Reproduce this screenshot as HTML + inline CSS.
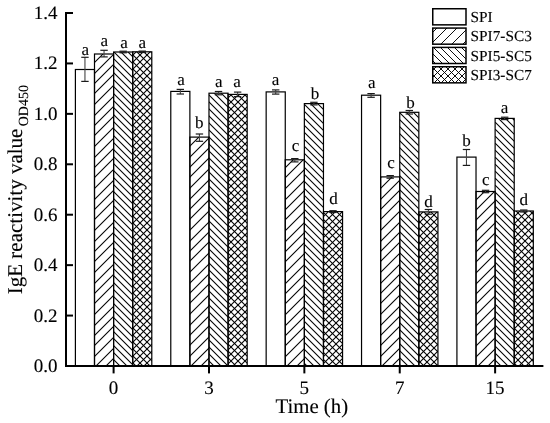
<!DOCTYPE html>
<html><head><meta charset="utf-8"><style>html,body{margin:0;padding:0;background:#fff}svg{display:block}text{text-rendering:geometricPrecision;stroke:#000;stroke-width:0.12px}</style></head>
<body><svg width="550" height="423" viewBox="0 0 550 423" font-family="Liberation Serif, serif" fill="#000">
<g stroke="none">
<defs><clipPath id="c01"><rect x="94.50" y="54.00" width="19.10" height="312.00"/></clipPath><clipPath id="c02"><rect x="113.60" y="52.00" width="19.10" height="314.00"/></clipPath><clipPath id="c03"><rect x="132.70" y="51.80" width="19.10" height="314.20"/></clipPath><clipPath id="c11"><rect x="189.88" y="137.10" width="19.10" height="228.90"/></clipPath><clipPath id="c12"><rect x="208.98" y="93.20" width="19.10" height="272.80"/></clipPath><clipPath id="c13"><rect x="228.08" y="94.40" width="19.10" height="271.60"/></clipPath><clipPath id="c21"><rect x="285.26" y="159.80" width="19.10" height="206.20"/></clipPath><clipPath id="c22"><rect x="304.36" y="103.60" width="19.10" height="262.40"/></clipPath><clipPath id="c23"><rect x="323.46" y="211.60" width="19.10" height="154.40"/></clipPath><clipPath id="c31"><rect x="380.64" y="176.90" width="19.10" height="189.10"/></clipPath><clipPath id="c32"><rect x="399.74" y="112.30" width="19.10" height="253.70"/></clipPath><clipPath id="c33"><rect x="418.84" y="211.90" width="19.10" height="154.10"/></clipPath><clipPath id="c41"><rect x="476.02" y="191.50" width="19.10" height="174.50"/></clipPath><clipPath id="c42"><rect x="495.12" y="118.40" width="19.10" height="247.60"/></clipPath><clipPath id="c43"><rect x="514.22" y="211.00" width="19.10" height="155.00"/></clipPath><clipPath id="l1"><rect x="432.75" y="28.08" width="33.25" height="16.10"/></clipPath><clipPath id="l2"><rect x="432.75" y="47.41" width="33.25" height="16.10"/></clipPath><clipPath id="l3"><rect x="432.75" y="66.74" width="33.25" height="16.10"/></clipPath></defs>
<rect width="550" height="423" fill="#fff"/>
<rect x="75.40" y="69.50" width="19.10" height="296.50" fill="none" stroke="#000" stroke-width="1.2"/>
<g clip-path="url(#c01)" stroke="#000" stroke-width="1.1"><line x1="-211.00" y1="368.00" x2="105.00" y2="52.00"/><line x1="-200.00" y1="368.00" x2="116.00" y2="52.00"/><line x1="-190.00" y1="368.00" x2="126.00" y2="52.00"/><line x1="-180.00" y1="368.00" x2="136.00" y2="52.00"/><line x1="-169.00" y1="368.00" x2="147.00" y2="52.00"/><line x1="-158.00" y1="368.00" x2="158.00" y2="52.00"/><line x1="-148.00" y1="368.00" x2="168.00" y2="52.00"/><line x1="-138.00" y1="368.00" x2="178.00" y2="52.00"/><line x1="-127.00" y1="368.00" x2="189.00" y2="52.00"/><line x1="-116.00" y1="368.00" x2="200.00" y2="52.00"/><line x1="-106.00" y1="368.00" x2="210.00" y2="52.00"/><line x1="-96.00" y1="368.00" x2="220.00" y2="52.00"/><line x1="-85.00" y1="368.00" x2="231.00" y2="52.00"/><line x1="-74.00" y1="368.00" x2="242.00" y2="52.00"/><line x1="-64.00" y1="368.00" x2="252.00" y2="52.00"/><line x1="-54.00" y1="368.00" x2="262.00" y2="52.00"/><line x1="-43.00" y1="368.00" x2="273.00" y2="52.00"/><line x1="-32.00" y1="368.00" x2="284.00" y2="52.00"/><line x1="-22.00" y1="368.00" x2="294.00" y2="52.00"/><line x1="-12.00" y1="368.00" x2="304.00" y2="52.00"/><line x1="-1.00" y1="368.00" x2="315.00" y2="52.00"/><line x1="10.00" y1="368.00" x2="326.00" y2="52.00"/><line x1="20.00" y1="368.00" x2="336.00" y2="52.00"/><line x1="30.00" y1="368.00" x2="346.00" y2="52.00"/><line x1="41.00" y1="368.00" x2="357.00" y2="52.00"/><line x1="52.00" y1="368.00" x2="368.00" y2="52.00"/><line x1="62.00" y1="368.00" x2="378.00" y2="52.00"/><line x1="72.00" y1="368.00" x2="388.00" y2="52.00"/><line x1="83.00" y1="368.00" x2="399.00" y2="52.00"/><line x1="94.00" y1="368.00" x2="410.00" y2="52.00"/><line x1="104.00" y1="368.00" x2="420.00" y2="52.00"/></g>
<rect x="94.50" y="54.00" width="19.10" height="312.00" fill="none" stroke="#000" stroke-width="1.2"/>
<g clip-path="url(#c02)" stroke="#000" stroke-width="1.1"><line x1="111.60" y1="35.60" x2="134.70" y2="58.70"/><line x1="111.60" y1="42.60" x2="134.70" y2="65.70"/><line x1="111.60" y1="49.60" x2="134.70" y2="72.70"/><line x1="111.60" y1="56.60" x2="134.70" y2="79.70"/><line x1="111.60" y1="63.60" x2="134.70" y2="86.70"/><line x1="111.60" y1="70.60" x2="134.70" y2="93.70"/><line x1="111.60" y1="77.60" x2="134.70" y2="100.70"/><line x1="111.60" y1="84.60" x2="134.70" y2="107.70"/><line x1="111.60" y1="91.60" x2="134.70" y2="114.70"/><line x1="111.60" y1="98.60" x2="134.70" y2="121.70"/><line x1="111.60" y1="105.60" x2="134.70" y2="128.70"/><line x1="111.60" y1="112.60" x2="134.70" y2="135.70"/><line x1="111.60" y1="119.60" x2="134.70" y2="142.70"/><line x1="111.60" y1="126.60" x2="134.70" y2="149.70"/><line x1="111.60" y1="133.60" x2="134.70" y2="156.70"/><line x1="111.60" y1="140.60" x2="134.70" y2="163.70"/><line x1="111.60" y1="147.60" x2="134.70" y2="170.70"/><line x1="111.60" y1="154.60" x2="134.70" y2="177.70"/><line x1="111.60" y1="161.60" x2="134.70" y2="184.70"/><line x1="111.60" y1="168.60" x2="134.70" y2="191.70"/><line x1="111.60" y1="175.60" x2="134.70" y2="198.70"/><line x1="111.60" y1="182.60" x2="134.70" y2="205.70"/><line x1="111.60" y1="189.60" x2="134.70" y2="212.70"/><line x1="111.60" y1="196.60" x2="134.70" y2="219.70"/><line x1="111.60" y1="203.60" x2="134.70" y2="226.70"/><line x1="111.60" y1="210.60" x2="134.70" y2="233.70"/><line x1="111.60" y1="217.60" x2="134.70" y2="240.70"/><line x1="111.60" y1="224.60" x2="134.70" y2="247.70"/><line x1="111.60" y1="231.60" x2="134.70" y2="254.70"/><line x1="111.60" y1="238.60" x2="134.70" y2="261.70"/><line x1="111.60" y1="245.60" x2="134.70" y2="268.70"/><line x1="111.60" y1="252.60" x2="134.70" y2="275.70"/><line x1="111.60" y1="259.60" x2="134.70" y2="282.70"/><line x1="111.60" y1="266.60" x2="134.70" y2="289.70"/><line x1="111.60" y1="273.60" x2="134.70" y2="296.70"/><line x1="111.60" y1="280.60" x2="134.70" y2="303.70"/><line x1="111.60" y1="287.60" x2="134.70" y2="310.70"/><line x1="111.60" y1="294.60" x2="134.70" y2="317.70"/><line x1="111.60" y1="301.60" x2="134.70" y2="324.70"/><line x1="111.60" y1="308.60" x2="134.70" y2="331.70"/><line x1="111.60" y1="315.60" x2="134.70" y2="338.70"/><line x1="111.60" y1="322.60" x2="134.70" y2="345.70"/><line x1="111.60" y1="329.60" x2="134.70" y2="352.70"/><line x1="111.60" y1="336.60" x2="134.70" y2="359.70"/><line x1="111.60" y1="343.60" x2="134.70" y2="366.70"/><line x1="111.60" y1="350.60" x2="134.70" y2="373.70"/><line x1="111.60" y1="357.60" x2="134.70" y2="380.70"/><line x1="111.60" y1="364.60" x2="134.70" y2="387.70"/></g>
<rect x="113.60" y="52.00" width="19.10" height="314.00" fill="none" stroke="#000" stroke-width="1.2"/>
<g clip-path="url(#c03)" stroke="#000" stroke-width="1.1"><line x1="-180.00" y1="368.00" x2="138.20" y2="49.80"/><line x1="-173.00" y1="368.00" x2="145.20" y2="49.80"/><line x1="-166.00" y1="368.00" x2="152.20" y2="49.80"/><line x1="-159.00" y1="368.00" x2="159.20" y2="49.80"/><line x1="-152.00" y1="368.00" x2="166.20" y2="49.80"/><line x1="-145.00" y1="368.00" x2="173.20" y2="49.80"/><line x1="-138.00" y1="368.00" x2="180.20" y2="49.80"/><line x1="-131.00" y1="368.00" x2="187.20" y2="49.80"/><line x1="-124.00" y1="368.00" x2="194.20" y2="49.80"/><line x1="-117.00" y1="368.00" x2="201.20" y2="49.80"/><line x1="-110.00" y1="368.00" x2="208.20" y2="49.80"/><line x1="-103.00" y1="368.00" x2="215.20" y2="49.80"/><line x1="-96.00" y1="368.00" x2="222.20" y2="49.80"/><line x1="-89.00" y1="368.00" x2="229.20" y2="49.80"/><line x1="-82.00" y1="368.00" x2="236.20" y2="49.80"/><line x1="-75.00" y1="368.00" x2="243.20" y2="49.80"/><line x1="-68.00" y1="368.00" x2="250.20" y2="49.80"/><line x1="-61.00" y1="368.00" x2="257.20" y2="49.80"/><line x1="-54.00" y1="368.00" x2="264.20" y2="49.80"/><line x1="-47.00" y1="368.00" x2="271.20" y2="49.80"/><line x1="-40.00" y1="368.00" x2="278.20" y2="49.80"/><line x1="-33.00" y1="368.00" x2="285.20" y2="49.80"/><line x1="-26.00" y1="368.00" x2="292.20" y2="49.80"/><line x1="-19.00" y1="368.00" x2="299.20" y2="49.80"/><line x1="-12.00" y1="368.00" x2="306.20" y2="49.80"/><line x1="-5.00" y1="368.00" x2="313.20" y2="49.80"/><line x1="2.00" y1="368.00" x2="320.20" y2="49.80"/><line x1="9.00" y1="368.00" x2="327.20" y2="49.80"/><line x1="16.00" y1="368.00" x2="334.20" y2="49.80"/><line x1="23.00" y1="368.00" x2="341.20" y2="49.80"/><line x1="30.00" y1="368.00" x2="348.20" y2="49.80"/><line x1="37.00" y1="368.00" x2="355.20" y2="49.80"/><line x1="44.00" y1="368.00" x2="362.20" y2="49.80"/><line x1="51.00" y1="368.00" x2="369.20" y2="49.80"/><line x1="58.00" y1="368.00" x2="376.20" y2="49.80"/><line x1="65.00" y1="368.00" x2="383.20" y2="49.80"/><line x1="72.00" y1="368.00" x2="390.20" y2="49.80"/><line x1="79.00" y1="368.00" x2="397.20" y2="49.80"/><line x1="86.00" y1="368.00" x2="404.20" y2="49.80"/><line x1="93.00" y1="368.00" x2="411.20" y2="49.80"/><line x1="100.00" y1="368.00" x2="418.20" y2="49.80"/><line x1="107.00" y1="368.00" x2="425.20" y2="49.80"/><line x1="114.00" y1="368.00" x2="432.20" y2="49.80"/><line x1="121.00" y1="368.00" x2="439.20" y2="49.80"/><line x1="128.00" y1="368.00" x2="446.20" y2="49.80"/><line x1="135.00" y1="368.00" x2="453.20" y2="49.80"/><line x1="142.00" y1="368.00" x2="460.20" y2="49.80"/><line x1="149.00" y1="368.00" x2="467.20" y2="49.80"/><line x1="130.70" y1="31.70" x2="153.80" y2="54.80"/><line x1="130.70" y1="38.70" x2="153.80" y2="61.80"/><line x1="130.70" y1="45.70" x2="153.80" y2="68.80"/><line x1="130.70" y1="52.70" x2="153.80" y2="75.80"/><line x1="130.70" y1="59.70" x2="153.80" y2="82.80"/><line x1="130.70" y1="66.70" x2="153.80" y2="89.80"/><line x1="130.70" y1="73.70" x2="153.80" y2="96.80"/><line x1="130.70" y1="80.70" x2="153.80" y2="103.80"/><line x1="130.70" y1="87.70" x2="153.80" y2="110.80"/><line x1="130.70" y1="94.70" x2="153.80" y2="117.80"/><line x1="130.70" y1="101.70" x2="153.80" y2="124.80"/><line x1="130.70" y1="108.70" x2="153.80" y2="131.80"/><line x1="130.70" y1="115.70" x2="153.80" y2="138.80"/><line x1="130.70" y1="122.70" x2="153.80" y2="145.80"/><line x1="130.70" y1="129.70" x2="153.80" y2="152.80"/><line x1="130.70" y1="136.70" x2="153.80" y2="159.80"/><line x1="130.70" y1="143.70" x2="153.80" y2="166.80"/><line x1="130.70" y1="150.70" x2="153.80" y2="173.80"/><line x1="130.70" y1="157.70" x2="153.80" y2="180.80"/><line x1="130.70" y1="164.70" x2="153.80" y2="187.80"/><line x1="130.70" y1="171.70" x2="153.80" y2="194.80"/><line x1="130.70" y1="178.70" x2="153.80" y2="201.80"/><line x1="130.70" y1="185.70" x2="153.80" y2="208.80"/><line x1="130.70" y1="192.70" x2="153.80" y2="215.80"/><line x1="130.70" y1="199.70" x2="153.80" y2="222.80"/><line x1="130.70" y1="206.70" x2="153.80" y2="229.80"/><line x1="130.70" y1="213.70" x2="153.80" y2="236.80"/><line x1="130.70" y1="220.70" x2="153.80" y2="243.80"/><line x1="130.70" y1="227.70" x2="153.80" y2="250.80"/><line x1="130.70" y1="234.70" x2="153.80" y2="257.80"/><line x1="130.70" y1="241.70" x2="153.80" y2="264.80"/><line x1="130.70" y1="248.70" x2="153.80" y2="271.80"/><line x1="130.70" y1="255.70" x2="153.80" y2="278.80"/><line x1="130.70" y1="262.70" x2="153.80" y2="285.80"/><line x1="130.70" y1="269.70" x2="153.80" y2="292.80"/><line x1="130.70" y1="276.70" x2="153.80" y2="299.80"/><line x1="130.70" y1="283.70" x2="153.80" y2="306.80"/><line x1="130.70" y1="290.70" x2="153.80" y2="313.80"/><line x1="130.70" y1="297.70" x2="153.80" y2="320.80"/><line x1="130.70" y1="304.70" x2="153.80" y2="327.80"/><line x1="130.70" y1="311.70" x2="153.80" y2="334.80"/><line x1="130.70" y1="318.70" x2="153.80" y2="341.80"/><line x1="130.70" y1="325.70" x2="153.80" y2="348.80"/><line x1="130.70" y1="332.70" x2="153.80" y2="355.80"/><line x1="130.70" y1="339.70" x2="153.80" y2="362.80"/><line x1="130.70" y1="346.70" x2="153.80" y2="369.80"/><line x1="130.70" y1="353.70" x2="153.80" y2="376.80"/><line x1="130.70" y1="360.70" x2="153.80" y2="383.80"/></g>
<rect x="132.70" y="51.80" width="19.10" height="314.20" fill="none" stroke="#000" stroke-width="1.2"/>
<rect x="170.78" y="91.40" width="19.10" height="274.60" fill="none" stroke="#000" stroke-width="1.2"/>
<g clip-path="url(#c11)" stroke="#000" stroke-width="1.1"><line x1="-32.00" y1="368.00" x2="200.90" y2="135.10"/><line x1="-21.00" y1="368.00" x2="211.90" y2="135.10"/><line x1="-11.00" y1="368.00" x2="221.90" y2="135.10"/><line x1="-1.00" y1="368.00" x2="231.90" y2="135.10"/><line x1="10.00" y1="368.00" x2="242.90" y2="135.10"/><line x1="21.00" y1="368.00" x2="253.90" y2="135.10"/><line x1="31.00" y1="368.00" x2="263.90" y2="135.10"/><line x1="41.00" y1="368.00" x2="273.90" y2="135.10"/><line x1="52.00" y1="368.00" x2="284.90" y2="135.10"/><line x1="63.00" y1="368.00" x2="295.90" y2="135.10"/><line x1="73.00" y1="368.00" x2="305.90" y2="135.10"/><line x1="83.00" y1="368.00" x2="315.90" y2="135.10"/><line x1="94.00" y1="368.00" x2="326.90" y2="135.10"/><line x1="105.00" y1="368.00" x2="337.90" y2="135.10"/><line x1="115.00" y1="368.00" x2="347.90" y2="135.10"/><line x1="125.00" y1="368.00" x2="357.90" y2="135.10"/><line x1="136.00" y1="368.00" x2="368.90" y2="135.10"/><line x1="147.00" y1="368.00" x2="379.90" y2="135.10"/><line x1="157.00" y1="368.00" x2="389.90" y2="135.10"/><line x1="167.00" y1="368.00" x2="399.90" y2="135.10"/><line x1="178.00" y1="368.00" x2="410.90" y2="135.10"/><line x1="189.00" y1="368.00" x2="421.90" y2="135.10"/><line x1="199.00" y1="368.00" x2="431.90" y2="135.10"/></g>
<rect x="189.88" y="137.10" width="19.10" height="228.90" fill="none" stroke="#000" stroke-width="1.2"/>
<g clip-path="url(#c12)" stroke="#000" stroke-width="1.1"><line x1="206.98" y1="71.98" x2="230.08" y2="95.08"/><line x1="206.98" y1="78.98" x2="230.08" y2="102.08"/><line x1="206.98" y1="85.98" x2="230.08" y2="109.08"/><line x1="206.98" y1="92.98" x2="230.08" y2="116.08"/><line x1="206.98" y1="99.98" x2="230.08" y2="123.08"/><line x1="206.98" y1="106.98" x2="230.08" y2="130.08"/><line x1="206.98" y1="113.98" x2="230.08" y2="137.08"/><line x1="206.98" y1="120.98" x2="230.08" y2="144.08"/><line x1="206.98" y1="127.98" x2="230.08" y2="151.08"/><line x1="206.98" y1="134.98" x2="230.08" y2="158.08"/><line x1="206.98" y1="141.98" x2="230.08" y2="165.08"/><line x1="206.98" y1="148.98" x2="230.08" y2="172.08"/><line x1="206.98" y1="155.98" x2="230.08" y2="179.08"/><line x1="206.98" y1="162.98" x2="230.08" y2="186.08"/><line x1="206.98" y1="169.98" x2="230.08" y2="193.08"/><line x1="206.98" y1="176.98" x2="230.08" y2="200.08"/><line x1="206.98" y1="183.98" x2="230.08" y2="207.08"/><line x1="206.98" y1="190.98" x2="230.08" y2="214.08"/><line x1="206.98" y1="197.98" x2="230.08" y2="221.08"/><line x1="206.98" y1="204.98" x2="230.08" y2="228.08"/><line x1="206.98" y1="211.98" x2="230.08" y2="235.08"/><line x1="206.98" y1="218.98" x2="230.08" y2="242.08"/><line x1="206.98" y1="225.98" x2="230.08" y2="249.08"/><line x1="206.98" y1="232.98" x2="230.08" y2="256.08"/><line x1="206.98" y1="239.98" x2="230.08" y2="263.08"/><line x1="206.98" y1="246.98" x2="230.08" y2="270.08"/><line x1="206.98" y1="253.98" x2="230.08" y2="277.08"/><line x1="206.98" y1="260.98" x2="230.08" y2="284.08"/><line x1="206.98" y1="267.98" x2="230.08" y2="291.08"/><line x1="206.98" y1="274.98" x2="230.08" y2="298.08"/><line x1="206.98" y1="281.98" x2="230.08" y2="305.08"/><line x1="206.98" y1="288.98" x2="230.08" y2="312.08"/><line x1="206.98" y1="295.98" x2="230.08" y2="319.08"/><line x1="206.98" y1="302.98" x2="230.08" y2="326.08"/><line x1="206.98" y1="309.98" x2="230.08" y2="333.08"/><line x1="206.98" y1="316.98" x2="230.08" y2="340.08"/><line x1="206.98" y1="323.98" x2="230.08" y2="347.08"/><line x1="206.98" y1="330.98" x2="230.08" y2="354.08"/><line x1="206.98" y1="337.98" x2="230.08" y2="361.08"/><line x1="206.98" y1="344.98" x2="230.08" y2="368.08"/><line x1="206.98" y1="351.98" x2="230.08" y2="375.08"/><line x1="206.98" y1="358.98" x2="230.08" y2="382.08"/></g>
<rect x="208.98" y="93.20" width="19.10" height="272.80" fill="none" stroke="#000" stroke-width="1.2"/>
<g clip-path="url(#c13)" stroke="#000" stroke-width="1.1"><line x1="-42.00" y1="368.00" x2="233.60" y2="92.40"/><line x1="-35.00" y1="368.00" x2="240.60" y2="92.40"/><line x1="-28.00" y1="368.00" x2="247.60" y2="92.40"/><line x1="-21.00" y1="368.00" x2="254.60" y2="92.40"/><line x1="-14.00" y1="368.00" x2="261.60" y2="92.40"/><line x1="-7.00" y1="368.00" x2="268.60" y2="92.40"/><line x1="0.00" y1="368.00" x2="275.60" y2="92.40"/><line x1="7.00" y1="368.00" x2="282.60" y2="92.40"/><line x1="14.00" y1="368.00" x2="289.60" y2="92.40"/><line x1="21.00" y1="368.00" x2="296.60" y2="92.40"/><line x1="28.00" y1="368.00" x2="303.60" y2="92.40"/><line x1="35.00" y1="368.00" x2="310.60" y2="92.40"/><line x1="42.00" y1="368.00" x2="317.60" y2="92.40"/><line x1="49.00" y1="368.00" x2="324.60" y2="92.40"/><line x1="56.00" y1="368.00" x2="331.60" y2="92.40"/><line x1="63.00" y1="368.00" x2="338.60" y2="92.40"/><line x1="70.00" y1="368.00" x2="345.60" y2="92.40"/><line x1="77.00" y1="368.00" x2="352.60" y2="92.40"/><line x1="84.00" y1="368.00" x2="359.60" y2="92.40"/><line x1="91.00" y1="368.00" x2="366.60" y2="92.40"/><line x1="98.00" y1="368.00" x2="373.60" y2="92.40"/><line x1="105.00" y1="368.00" x2="380.60" y2="92.40"/><line x1="112.00" y1="368.00" x2="387.60" y2="92.40"/><line x1="119.00" y1="368.00" x2="394.60" y2="92.40"/><line x1="126.00" y1="368.00" x2="401.60" y2="92.40"/><line x1="133.00" y1="368.00" x2="408.60" y2="92.40"/><line x1="140.00" y1="368.00" x2="415.60" y2="92.40"/><line x1="147.00" y1="368.00" x2="422.60" y2="92.40"/><line x1="154.00" y1="368.00" x2="429.60" y2="92.40"/><line x1="161.00" y1="368.00" x2="436.60" y2="92.40"/><line x1="168.00" y1="368.00" x2="443.60" y2="92.40"/><line x1="175.00" y1="368.00" x2="450.60" y2="92.40"/><line x1="182.00" y1="368.00" x2="457.60" y2="92.40"/><line x1="189.00" y1="368.00" x2="464.60" y2="92.40"/><line x1="196.00" y1="368.00" x2="471.60" y2="92.40"/><line x1="203.00" y1="368.00" x2="478.60" y2="92.40"/><line x1="210.00" y1="368.00" x2="485.60" y2="92.40"/><line x1="217.00" y1="368.00" x2="492.60" y2="92.40"/><line x1="224.00" y1="368.00" x2="499.60" y2="92.40"/><line x1="231.00" y1="368.00" x2="506.60" y2="92.40"/><line x1="238.00" y1="368.00" x2="513.60" y2="92.40"/><line x1="245.00" y1="368.00" x2="520.60" y2="92.40"/><line x1="226.08" y1="76.08" x2="249.18" y2="99.18"/><line x1="226.08" y1="83.08" x2="249.18" y2="106.18"/><line x1="226.08" y1="90.08" x2="249.18" y2="113.18"/><line x1="226.08" y1="97.08" x2="249.18" y2="120.18"/><line x1="226.08" y1="104.08" x2="249.18" y2="127.18"/><line x1="226.08" y1="111.08" x2="249.18" y2="134.18"/><line x1="226.08" y1="118.08" x2="249.18" y2="141.18"/><line x1="226.08" y1="125.08" x2="249.18" y2="148.18"/><line x1="226.08" y1="132.08" x2="249.18" y2="155.18"/><line x1="226.08" y1="139.08" x2="249.18" y2="162.18"/><line x1="226.08" y1="146.08" x2="249.18" y2="169.18"/><line x1="226.08" y1="153.08" x2="249.18" y2="176.18"/><line x1="226.08" y1="160.08" x2="249.18" y2="183.18"/><line x1="226.08" y1="167.08" x2="249.18" y2="190.18"/><line x1="226.08" y1="174.08" x2="249.18" y2="197.18"/><line x1="226.08" y1="181.08" x2="249.18" y2="204.18"/><line x1="226.08" y1="188.08" x2="249.18" y2="211.18"/><line x1="226.08" y1="195.08" x2="249.18" y2="218.18"/><line x1="226.08" y1="202.08" x2="249.18" y2="225.18"/><line x1="226.08" y1="209.08" x2="249.18" y2="232.18"/><line x1="226.08" y1="216.08" x2="249.18" y2="239.18"/><line x1="226.08" y1="223.08" x2="249.18" y2="246.18"/><line x1="226.08" y1="230.08" x2="249.18" y2="253.18"/><line x1="226.08" y1="237.08" x2="249.18" y2="260.18"/><line x1="226.08" y1="244.08" x2="249.18" y2="267.18"/><line x1="226.08" y1="251.08" x2="249.18" y2="274.18"/><line x1="226.08" y1="258.08" x2="249.18" y2="281.18"/><line x1="226.08" y1="265.08" x2="249.18" y2="288.18"/><line x1="226.08" y1="272.08" x2="249.18" y2="295.18"/><line x1="226.08" y1="279.08" x2="249.18" y2="302.18"/><line x1="226.08" y1="286.08" x2="249.18" y2="309.18"/><line x1="226.08" y1="293.08" x2="249.18" y2="316.18"/><line x1="226.08" y1="300.08" x2="249.18" y2="323.18"/><line x1="226.08" y1="307.08" x2="249.18" y2="330.18"/><line x1="226.08" y1="314.08" x2="249.18" y2="337.18"/><line x1="226.08" y1="321.08" x2="249.18" y2="344.18"/><line x1="226.08" y1="328.08" x2="249.18" y2="351.18"/><line x1="226.08" y1="335.08" x2="249.18" y2="358.18"/><line x1="226.08" y1="342.08" x2="249.18" y2="365.18"/><line x1="226.08" y1="349.08" x2="249.18" y2="372.18"/><line x1="226.08" y1="356.08" x2="249.18" y2="379.18"/><line x1="226.08" y1="363.08" x2="249.18" y2="386.18"/></g>
<rect x="228.08" y="94.40" width="19.10" height="271.60" fill="none" stroke="#000" stroke-width="1.2"/>
<rect x="266.16" y="91.90" width="19.10" height="274.10" fill="none" stroke="#000" stroke-width="1.2"/>
<g clip-path="url(#c21)" stroke="#000" stroke-width="1.1"><line x1="85.00" y1="368.00" x2="295.20" y2="157.80"/><line x1="95.00" y1="368.00" x2="305.20" y2="157.80"/><line x1="106.00" y1="368.00" x2="316.20" y2="157.80"/><line x1="117.00" y1="368.00" x2="327.20" y2="157.80"/><line x1="127.00" y1="368.00" x2="337.20" y2="157.80"/><line x1="137.00" y1="368.00" x2="347.20" y2="157.80"/><line x1="148.00" y1="368.00" x2="358.20" y2="157.80"/><line x1="159.00" y1="368.00" x2="369.20" y2="157.80"/><line x1="169.00" y1="368.00" x2="379.20" y2="157.80"/><line x1="179.00" y1="368.00" x2="389.20" y2="157.80"/><line x1="190.00" y1="368.00" x2="400.20" y2="157.80"/><line x1="201.00" y1="368.00" x2="411.20" y2="157.80"/><line x1="211.00" y1="368.00" x2="421.20" y2="157.80"/><line x1="221.00" y1="368.00" x2="431.20" y2="157.80"/><line x1="232.00" y1="368.00" x2="442.20" y2="157.80"/><line x1="243.00" y1="368.00" x2="453.20" y2="157.80"/><line x1="253.00" y1="368.00" x2="463.20" y2="157.80"/><line x1="263.00" y1="368.00" x2="473.20" y2="157.80"/><line x1="274.00" y1="368.00" x2="484.20" y2="157.80"/><line x1="285.00" y1="368.00" x2="495.20" y2="157.80"/><line x1="295.00" y1="368.00" x2="505.20" y2="157.80"/></g>
<rect x="285.26" y="159.80" width="19.10" height="206.20" fill="none" stroke="#000" stroke-width="1.2"/>
<g clip-path="url(#c22)" stroke="#000" stroke-width="1.1"><line x1="302.36" y1="88.36" x2="325.46" y2="111.46"/><line x1="302.36" y1="95.36" x2="325.46" y2="118.46"/><line x1="302.36" y1="102.36" x2="325.46" y2="125.46"/><line x1="302.36" y1="109.36" x2="325.46" y2="132.46"/><line x1="302.36" y1="116.36" x2="325.46" y2="139.46"/><line x1="302.36" y1="123.36" x2="325.46" y2="146.46"/><line x1="302.36" y1="130.36" x2="325.46" y2="153.46"/><line x1="302.36" y1="137.36" x2="325.46" y2="160.46"/><line x1="302.36" y1="144.36" x2="325.46" y2="167.46"/><line x1="302.36" y1="151.36" x2="325.46" y2="174.46"/><line x1="302.36" y1="158.36" x2="325.46" y2="181.46"/><line x1="302.36" y1="165.36" x2="325.46" y2="188.46"/><line x1="302.36" y1="172.36" x2="325.46" y2="195.46"/><line x1="302.36" y1="179.36" x2="325.46" y2="202.46"/><line x1="302.36" y1="186.36" x2="325.46" y2="209.46"/><line x1="302.36" y1="193.36" x2="325.46" y2="216.46"/><line x1="302.36" y1="200.36" x2="325.46" y2="223.46"/><line x1="302.36" y1="207.36" x2="325.46" y2="230.46"/><line x1="302.36" y1="214.36" x2="325.46" y2="237.46"/><line x1="302.36" y1="221.36" x2="325.46" y2="244.46"/><line x1="302.36" y1="228.36" x2="325.46" y2="251.46"/><line x1="302.36" y1="235.36" x2="325.46" y2="258.46"/><line x1="302.36" y1="242.36" x2="325.46" y2="265.46"/><line x1="302.36" y1="249.36" x2="325.46" y2="272.46"/><line x1="302.36" y1="256.36" x2="325.46" y2="279.46"/><line x1="302.36" y1="263.36" x2="325.46" y2="286.46"/><line x1="302.36" y1="270.36" x2="325.46" y2="293.46"/><line x1="302.36" y1="277.36" x2="325.46" y2="300.46"/><line x1="302.36" y1="284.36" x2="325.46" y2="307.46"/><line x1="302.36" y1="291.36" x2="325.46" y2="314.46"/><line x1="302.36" y1="298.36" x2="325.46" y2="321.46"/><line x1="302.36" y1="305.36" x2="325.46" y2="328.46"/><line x1="302.36" y1="312.36" x2="325.46" y2="335.46"/><line x1="302.36" y1="319.36" x2="325.46" y2="342.46"/><line x1="302.36" y1="326.36" x2="325.46" y2="349.46"/><line x1="302.36" y1="333.36" x2="325.46" y2="356.46"/><line x1="302.36" y1="340.36" x2="325.46" y2="363.46"/><line x1="302.36" y1="347.36" x2="325.46" y2="370.46"/><line x1="302.36" y1="354.36" x2="325.46" y2="377.46"/><line x1="302.36" y1="361.36" x2="325.46" y2="384.46"/></g>
<rect x="304.36" y="103.60" width="19.10" height="262.40" fill="none" stroke="#000" stroke-width="1.2"/>
<g clip-path="url(#c23)" stroke="#000" stroke-width="1.1"><line x1="172.00" y1="368.00" x2="330.40" y2="209.60"/><line x1="179.00" y1="368.00" x2="337.40" y2="209.60"/><line x1="186.00" y1="368.00" x2="344.40" y2="209.60"/><line x1="193.00" y1="368.00" x2="351.40" y2="209.60"/><line x1="200.00" y1="368.00" x2="358.40" y2="209.60"/><line x1="207.00" y1="368.00" x2="365.40" y2="209.60"/><line x1="214.00" y1="368.00" x2="372.40" y2="209.60"/><line x1="221.00" y1="368.00" x2="379.40" y2="209.60"/><line x1="228.00" y1="368.00" x2="386.40" y2="209.60"/><line x1="235.00" y1="368.00" x2="393.40" y2="209.60"/><line x1="242.00" y1="368.00" x2="400.40" y2="209.60"/><line x1="249.00" y1="368.00" x2="407.40" y2="209.60"/><line x1="256.00" y1="368.00" x2="414.40" y2="209.60"/><line x1="263.00" y1="368.00" x2="421.40" y2="209.60"/><line x1="270.00" y1="368.00" x2="428.40" y2="209.60"/><line x1="277.00" y1="368.00" x2="435.40" y2="209.60"/><line x1="284.00" y1="368.00" x2="442.40" y2="209.60"/><line x1="291.00" y1="368.00" x2="449.40" y2="209.60"/><line x1="298.00" y1="368.00" x2="456.40" y2="209.60"/><line x1="305.00" y1="368.00" x2="463.40" y2="209.60"/><line x1="312.00" y1="368.00" x2="470.40" y2="209.60"/><line x1="319.00" y1="368.00" x2="477.40" y2="209.60"/><line x1="326.00" y1="368.00" x2="484.40" y2="209.60"/><line x1="333.00" y1="368.00" x2="491.40" y2="209.60"/><line x1="340.00" y1="368.00" x2="498.40" y2="209.60"/><line x1="321.46" y1="196.46" x2="344.56" y2="219.56"/><line x1="321.46" y1="203.46" x2="344.56" y2="226.56"/><line x1="321.46" y1="210.46" x2="344.56" y2="233.56"/><line x1="321.46" y1="217.46" x2="344.56" y2="240.56"/><line x1="321.46" y1="224.46" x2="344.56" y2="247.56"/><line x1="321.46" y1="231.46" x2="344.56" y2="254.56"/><line x1="321.46" y1="238.46" x2="344.56" y2="261.56"/><line x1="321.46" y1="245.46" x2="344.56" y2="268.56"/><line x1="321.46" y1="252.46" x2="344.56" y2="275.56"/><line x1="321.46" y1="259.46" x2="344.56" y2="282.56"/><line x1="321.46" y1="266.46" x2="344.56" y2="289.56"/><line x1="321.46" y1="273.46" x2="344.56" y2="296.56"/><line x1="321.46" y1="280.46" x2="344.56" y2="303.56"/><line x1="321.46" y1="287.46" x2="344.56" y2="310.56"/><line x1="321.46" y1="294.46" x2="344.56" y2="317.56"/><line x1="321.46" y1="301.46" x2="344.56" y2="324.56"/><line x1="321.46" y1="308.46" x2="344.56" y2="331.56"/><line x1="321.46" y1="315.46" x2="344.56" y2="338.56"/><line x1="321.46" y1="322.46" x2="344.56" y2="345.56"/><line x1="321.46" y1="329.46" x2="344.56" y2="352.56"/><line x1="321.46" y1="336.46" x2="344.56" y2="359.56"/><line x1="321.46" y1="343.46" x2="344.56" y2="366.56"/><line x1="321.46" y1="350.46" x2="344.56" y2="373.56"/><line x1="321.46" y1="357.46" x2="344.56" y2="380.56"/><line x1="321.46" y1="364.46" x2="344.56" y2="387.56"/></g>
<rect x="323.46" y="211.60" width="19.10" height="154.40" fill="none" stroke="#000" stroke-width="1.2"/>
<rect x="361.54" y="95.20" width="19.10" height="270.80" fill="none" stroke="#000" stroke-width="1.2"/>
<g clip-path="url(#c31)" stroke="#000" stroke-width="1.1"><line x1="190.00" y1="368.00" x2="383.10" y2="174.90"/><line x1="201.00" y1="368.00" x2="394.10" y2="174.90"/><line x1="212.00" y1="368.00" x2="405.10" y2="174.90"/><line x1="222.00" y1="368.00" x2="415.10" y2="174.90"/><line x1="232.00" y1="368.00" x2="425.10" y2="174.90"/><line x1="243.00" y1="368.00" x2="436.10" y2="174.90"/><line x1="254.00" y1="368.00" x2="447.10" y2="174.90"/><line x1="264.00" y1="368.00" x2="457.10" y2="174.90"/><line x1="274.00" y1="368.00" x2="467.10" y2="174.90"/><line x1="285.00" y1="368.00" x2="478.10" y2="174.90"/><line x1="296.00" y1="368.00" x2="489.10" y2="174.90"/><line x1="306.00" y1="368.00" x2="499.10" y2="174.90"/><line x1="316.00" y1="368.00" x2="509.10" y2="174.90"/><line x1="327.00" y1="368.00" x2="520.10" y2="174.90"/><line x1="338.00" y1="368.00" x2="531.10" y2="174.90"/><line x1="348.00" y1="368.00" x2="541.10" y2="174.90"/><line x1="358.00" y1="368.00" x2="551.10" y2="174.90"/><line x1="369.00" y1="368.00" x2="562.10" y2="174.90"/><line x1="380.00" y1="368.00" x2="573.10" y2="174.90"/><line x1="390.00" y1="368.00" x2="583.10" y2="174.90"/></g>
<rect x="380.64" y="176.90" width="19.10" height="189.10" fill="none" stroke="#000" stroke-width="1.2"/>
<g clip-path="url(#c32)" stroke="#000" stroke-width="1.1"><line x1="397.74" y1="96.74" x2="420.84" y2="119.84"/><line x1="397.74" y1="103.74" x2="420.84" y2="126.84"/><line x1="397.74" y1="110.74" x2="420.84" y2="133.84"/><line x1="397.74" y1="117.74" x2="420.84" y2="140.84"/><line x1="397.74" y1="124.74" x2="420.84" y2="147.84"/><line x1="397.74" y1="131.74" x2="420.84" y2="154.84"/><line x1="397.74" y1="138.74" x2="420.84" y2="161.84"/><line x1="397.74" y1="145.74" x2="420.84" y2="168.84"/><line x1="397.74" y1="152.74" x2="420.84" y2="175.84"/><line x1="397.74" y1="159.74" x2="420.84" y2="182.84"/><line x1="397.74" y1="166.74" x2="420.84" y2="189.84"/><line x1="397.74" y1="173.74" x2="420.84" y2="196.84"/><line x1="397.74" y1="180.74" x2="420.84" y2="203.84"/><line x1="397.74" y1="187.74" x2="420.84" y2="210.84"/><line x1="397.74" y1="194.74" x2="420.84" y2="217.84"/><line x1="397.74" y1="201.74" x2="420.84" y2="224.84"/><line x1="397.74" y1="208.74" x2="420.84" y2="231.84"/><line x1="397.74" y1="215.74" x2="420.84" y2="238.84"/><line x1="397.74" y1="222.74" x2="420.84" y2="245.84"/><line x1="397.74" y1="229.74" x2="420.84" y2="252.84"/><line x1="397.74" y1="236.74" x2="420.84" y2="259.84"/><line x1="397.74" y1="243.74" x2="420.84" y2="266.84"/><line x1="397.74" y1="250.74" x2="420.84" y2="273.84"/><line x1="397.74" y1="257.74" x2="420.84" y2="280.84"/><line x1="397.74" y1="264.74" x2="420.84" y2="287.84"/><line x1="397.74" y1="271.74" x2="420.84" y2="294.84"/><line x1="397.74" y1="278.74" x2="420.84" y2="301.84"/><line x1="397.74" y1="285.74" x2="420.84" y2="308.84"/><line x1="397.74" y1="292.74" x2="420.84" y2="315.84"/><line x1="397.74" y1="299.74" x2="420.84" y2="322.84"/><line x1="397.74" y1="306.74" x2="420.84" y2="329.84"/><line x1="397.74" y1="313.74" x2="420.84" y2="336.84"/><line x1="397.74" y1="320.74" x2="420.84" y2="343.84"/><line x1="397.74" y1="327.74" x2="420.84" y2="350.84"/><line x1="397.74" y1="334.74" x2="420.84" y2="357.84"/><line x1="397.74" y1="341.74" x2="420.84" y2="364.84"/><line x1="397.74" y1="348.74" x2="420.84" y2="371.84"/><line x1="397.74" y1="355.74" x2="420.84" y2="378.84"/><line x1="397.74" y1="362.74" x2="420.84" y2="385.84"/></g>
<rect x="399.74" y="112.30" width="19.10" height="253.70" fill="none" stroke="#000" stroke-width="1.2"/>
<g clip-path="url(#c33)" stroke="#000" stroke-width="1.1"><line x1="267.00" y1="368.00" x2="425.10" y2="209.90"/><line x1="274.00" y1="368.00" x2="432.10" y2="209.90"/><line x1="281.00" y1="368.00" x2="439.10" y2="209.90"/><line x1="288.00" y1="368.00" x2="446.10" y2="209.90"/><line x1="295.00" y1="368.00" x2="453.10" y2="209.90"/><line x1="302.00" y1="368.00" x2="460.10" y2="209.90"/><line x1="309.00" y1="368.00" x2="467.10" y2="209.90"/><line x1="316.00" y1="368.00" x2="474.10" y2="209.90"/><line x1="323.00" y1="368.00" x2="481.10" y2="209.90"/><line x1="330.00" y1="368.00" x2="488.10" y2="209.90"/><line x1="337.00" y1="368.00" x2="495.10" y2="209.90"/><line x1="344.00" y1="368.00" x2="502.10" y2="209.90"/><line x1="351.00" y1="368.00" x2="509.10" y2="209.90"/><line x1="358.00" y1="368.00" x2="516.10" y2="209.90"/><line x1="365.00" y1="368.00" x2="523.10" y2="209.90"/><line x1="372.00" y1="368.00" x2="530.10" y2="209.90"/><line x1="379.00" y1="368.00" x2="537.10" y2="209.90"/><line x1="386.00" y1="368.00" x2="544.10" y2="209.90"/><line x1="393.00" y1="368.00" x2="551.10" y2="209.90"/><line x1="400.00" y1="368.00" x2="558.10" y2="209.90"/><line x1="407.00" y1="368.00" x2="565.10" y2="209.90"/><line x1="414.00" y1="368.00" x2="572.10" y2="209.90"/><line x1="421.00" y1="368.00" x2="579.10" y2="209.90"/><line x1="428.00" y1="368.00" x2="586.10" y2="209.90"/><line x1="435.00" y1="368.00" x2="593.10" y2="209.90"/><line x1="416.84" y1="190.84" x2="439.94" y2="213.94"/><line x1="416.84" y1="197.84" x2="439.94" y2="220.94"/><line x1="416.84" y1="204.84" x2="439.94" y2="227.94"/><line x1="416.84" y1="211.84" x2="439.94" y2="234.94"/><line x1="416.84" y1="218.84" x2="439.94" y2="241.94"/><line x1="416.84" y1="225.84" x2="439.94" y2="248.94"/><line x1="416.84" y1="232.84" x2="439.94" y2="255.94"/><line x1="416.84" y1="239.84" x2="439.94" y2="262.94"/><line x1="416.84" y1="246.84" x2="439.94" y2="269.94"/><line x1="416.84" y1="253.84" x2="439.94" y2="276.94"/><line x1="416.84" y1="260.84" x2="439.94" y2="283.94"/><line x1="416.84" y1="267.84" x2="439.94" y2="290.94"/><line x1="416.84" y1="274.84" x2="439.94" y2="297.94"/><line x1="416.84" y1="281.84" x2="439.94" y2="304.94"/><line x1="416.84" y1="288.84" x2="439.94" y2="311.94"/><line x1="416.84" y1="295.84" x2="439.94" y2="318.94"/><line x1="416.84" y1="302.84" x2="439.94" y2="325.94"/><line x1="416.84" y1="309.84" x2="439.94" y2="332.94"/><line x1="416.84" y1="316.84" x2="439.94" y2="339.94"/><line x1="416.84" y1="323.84" x2="439.94" y2="346.94"/><line x1="416.84" y1="330.84" x2="439.94" y2="353.94"/><line x1="416.84" y1="337.84" x2="439.94" y2="360.94"/><line x1="416.84" y1="344.84" x2="439.94" y2="367.94"/><line x1="416.84" y1="351.84" x2="439.94" y2="374.94"/><line x1="416.84" y1="358.84" x2="439.94" y2="381.94"/></g>
<rect x="418.84" y="211.90" width="19.10" height="154.10" fill="none" stroke="#000" stroke-width="1.2"/>
<rect x="456.92" y="157.10" width="19.10" height="208.90" fill="none" stroke="#000" stroke-width="1.2"/>
<g clip-path="url(#c41)" stroke="#000" stroke-width="1.1"><line x1="308.00" y1="368.00" x2="486.50" y2="189.50"/><line x1="318.00" y1="368.00" x2="496.50" y2="189.50"/><line x1="328.00" y1="368.00" x2="506.50" y2="189.50"/><line x1="339.00" y1="368.00" x2="517.50" y2="189.50"/><line x1="350.00" y1="368.00" x2="528.50" y2="189.50"/><line x1="360.00" y1="368.00" x2="538.50" y2="189.50"/><line x1="370.00" y1="368.00" x2="548.50" y2="189.50"/><line x1="381.00" y1="368.00" x2="559.50" y2="189.50"/><line x1="392.00" y1="368.00" x2="570.50" y2="189.50"/><line x1="402.00" y1="368.00" x2="580.50" y2="189.50"/><line x1="412.00" y1="368.00" x2="590.50" y2="189.50"/><line x1="423.00" y1="368.00" x2="601.50" y2="189.50"/><line x1="434.00" y1="368.00" x2="612.50" y2="189.50"/><line x1="444.00" y1="368.00" x2="622.50" y2="189.50"/><line x1="454.00" y1="368.00" x2="632.50" y2="189.50"/><line x1="465.00" y1="368.00" x2="643.50" y2="189.50"/><line x1="476.00" y1="368.00" x2="654.50" y2="189.50"/><line x1="486.00" y1="368.00" x2="664.50" y2="189.50"/></g>
<rect x="476.02" y="191.50" width="19.10" height="174.50" fill="none" stroke="#000" stroke-width="1.2"/>
<g clip-path="url(#c42)" stroke="#000" stroke-width="1.1"><line x1="493.12" y1="99.12" x2="516.22" y2="122.22"/><line x1="493.12" y1="106.12" x2="516.22" y2="129.22"/><line x1="493.12" y1="113.12" x2="516.22" y2="136.22"/><line x1="493.12" y1="120.12" x2="516.22" y2="143.22"/><line x1="493.12" y1="127.12" x2="516.22" y2="150.22"/><line x1="493.12" y1="134.12" x2="516.22" y2="157.22"/><line x1="493.12" y1="141.12" x2="516.22" y2="164.22"/><line x1="493.12" y1="148.12" x2="516.22" y2="171.22"/><line x1="493.12" y1="155.12" x2="516.22" y2="178.22"/><line x1="493.12" y1="162.12" x2="516.22" y2="185.22"/><line x1="493.12" y1="169.12" x2="516.22" y2="192.22"/><line x1="493.12" y1="176.12" x2="516.22" y2="199.22"/><line x1="493.12" y1="183.12" x2="516.22" y2="206.22"/><line x1="493.12" y1="190.12" x2="516.22" y2="213.22"/><line x1="493.12" y1="197.12" x2="516.22" y2="220.22"/><line x1="493.12" y1="204.12" x2="516.22" y2="227.22"/><line x1="493.12" y1="211.12" x2="516.22" y2="234.22"/><line x1="493.12" y1="218.12" x2="516.22" y2="241.22"/><line x1="493.12" y1="225.12" x2="516.22" y2="248.22"/><line x1="493.12" y1="232.12" x2="516.22" y2="255.22"/><line x1="493.12" y1="239.12" x2="516.22" y2="262.22"/><line x1="493.12" y1="246.12" x2="516.22" y2="269.22"/><line x1="493.12" y1="253.12" x2="516.22" y2="276.22"/><line x1="493.12" y1="260.12" x2="516.22" y2="283.22"/><line x1="493.12" y1="267.12" x2="516.22" y2="290.22"/><line x1="493.12" y1="274.12" x2="516.22" y2="297.22"/><line x1="493.12" y1="281.12" x2="516.22" y2="304.22"/><line x1="493.12" y1="288.12" x2="516.22" y2="311.22"/><line x1="493.12" y1="295.12" x2="516.22" y2="318.22"/><line x1="493.12" y1="302.12" x2="516.22" y2="325.22"/><line x1="493.12" y1="309.12" x2="516.22" y2="332.22"/><line x1="493.12" y1="316.12" x2="516.22" y2="339.22"/><line x1="493.12" y1="323.12" x2="516.22" y2="346.22"/><line x1="493.12" y1="330.12" x2="516.22" y2="353.22"/><line x1="493.12" y1="337.12" x2="516.22" y2="360.22"/><line x1="493.12" y1="344.12" x2="516.22" y2="367.22"/><line x1="493.12" y1="351.12" x2="516.22" y2="374.22"/><line x1="493.12" y1="358.12" x2="516.22" y2="381.22"/></g>
<rect x="495.12" y="118.40" width="19.10" height="247.60" fill="none" stroke="#000" stroke-width="1.2"/>
<g clip-path="url(#c43)" stroke="#000" stroke-width="1.1"><line x1="363.00" y1="368.00" x2="522.00" y2="209.00"/><line x1="370.00" y1="368.00" x2="529.00" y2="209.00"/><line x1="377.00" y1="368.00" x2="536.00" y2="209.00"/><line x1="384.00" y1="368.00" x2="543.00" y2="209.00"/><line x1="391.00" y1="368.00" x2="550.00" y2="209.00"/><line x1="398.00" y1="368.00" x2="557.00" y2="209.00"/><line x1="405.00" y1="368.00" x2="564.00" y2="209.00"/><line x1="412.00" y1="368.00" x2="571.00" y2="209.00"/><line x1="419.00" y1="368.00" x2="578.00" y2="209.00"/><line x1="426.00" y1="368.00" x2="585.00" y2="209.00"/><line x1="433.00" y1="368.00" x2="592.00" y2="209.00"/><line x1="440.00" y1="368.00" x2="599.00" y2="209.00"/><line x1="447.00" y1="368.00" x2="606.00" y2="209.00"/><line x1="454.00" y1="368.00" x2="613.00" y2="209.00"/><line x1="461.00" y1="368.00" x2="620.00" y2="209.00"/><line x1="468.00" y1="368.00" x2="627.00" y2="209.00"/><line x1="475.00" y1="368.00" x2="634.00" y2="209.00"/><line x1="482.00" y1="368.00" x2="641.00" y2="209.00"/><line x1="489.00" y1="368.00" x2="648.00" y2="209.00"/><line x1="496.00" y1="368.00" x2="655.00" y2="209.00"/><line x1="503.00" y1="368.00" x2="662.00" y2="209.00"/><line x1="510.00" y1="368.00" x2="669.00" y2="209.00"/><line x1="517.00" y1="368.00" x2="676.00" y2="209.00"/><line x1="524.00" y1="368.00" x2="683.00" y2="209.00"/><line x1="531.00" y1="368.00" x2="690.00" y2="209.00"/><line x1="512.22" y1="193.22" x2="535.32" y2="216.32"/><line x1="512.22" y1="200.22" x2="535.32" y2="223.32"/><line x1="512.22" y1="207.22" x2="535.32" y2="230.32"/><line x1="512.22" y1="214.22" x2="535.32" y2="237.32"/><line x1="512.22" y1="221.22" x2="535.32" y2="244.32"/><line x1="512.22" y1="228.22" x2="535.32" y2="251.32"/><line x1="512.22" y1="235.22" x2="535.32" y2="258.32"/><line x1="512.22" y1="242.22" x2="535.32" y2="265.32"/><line x1="512.22" y1="249.22" x2="535.32" y2="272.32"/><line x1="512.22" y1="256.22" x2="535.32" y2="279.32"/><line x1="512.22" y1="263.22" x2="535.32" y2="286.32"/><line x1="512.22" y1="270.22" x2="535.32" y2="293.32"/><line x1="512.22" y1="277.22" x2="535.32" y2="300.32"/><line x1="512.22" y1="284.22" x2="535.32" y2="307.32"/><line x1="512.22" y1="291.22" x2="535.32" y2="314.32"/><line x1="512.22" y1="298.22" x2="535.32" y2="321.32"/><line x1="512.22" y1="305.22" x2="535.32" y2="328.32"/><line x1="512.22" y1="312.22" x2="535.32" y2="335.32"/><line x1="512.22" y1="319.22" x2="535.32" y2="342.32"/><line x1="512.22" y1="326.22" x2="535.32" y2="349.32"/><line x1="512.22" y1="333.22" x2="535.32" y2="356.32"/><line x1="512.22" y1="340.22" x2="535.32" y2="363.32"/><line x1="512.22" y1="347.22" x2="535.32" y2="370.32"/><line x1="512.22" y1="354.22" x2="535.32" y2="377.32"/><line x1="512.22" y1="361.22" x2="535.32" y2="384.32"/></g>
<rect x="514.22" y="211.00" width="19.10" height="155.00" fill="none" stroke="#000" stroke-width="1.2"/>
<line x1="84.95" y1="57.30" x2="84.95" y2="81.40" stroke="#444" stroke-width="1.1"/><g stroke="#1a1a1a" stroke-width="1.2"><line x1="81.25" y1="57.30" x2="88.65" y2="57.30"/><line x1="81.25" y1="81.40" x2="88.65" y2="81.40"/></g>
<line x1="104.05" y1="50.30" x2="104.05" y2="56.90" stroke="#444" stroke-width="1.1"/><g stroke="#1a1a1a" stroke-width="1.2"><line x1="100.35" y1="50.30" x2="107.75" y2="50.30"/><line x1="100.35" y1="56.90" x2="107.75" y2="56.90"/></g>
<line x1="123.15" y1="51.20" x2="123.15" y2="52.80" stroke="#444" stroke-width="1.1"/><g stroke="#1a1a1a" stroke-width="1.2"><line x1="119.45" y1="51.20" x2="126.85" y2="51.20"/><line x1="119.45" y1="52.80" x2="126.85" y2="52.80"/></g>
<line x1="142.25" y1="51.10" x2="142.25" y2="52.50" stroke="#444" stroke-width="1.1"/><g stroke="#1a1a1a" stroke-width="1.2"><line x1="138.55" y1="51.10" x2="145.95" y2="51.10"/><line x1="138.55" y1="52.50" x2="145.95" y2="52.50"/></g>
<line x1="180.33" y1="89.40" x2="180.33" y2="94.00" stroke="#444" stroke-width="1.1"/><g stroke="#1a1a1a" stroke-width="1.2"><line x1="176.63" y1="89.40" x2="184.03" y2="89.40"/><line x1="176.63" y1="94.00" x2="184.03" y2="94.00"/></g>
<line x1="199.43" y1="134.00" x2="199.43" y2="141.30" stroke="#444" stroke-width="1.1"/><g stroke="#1a1a1a" stroke-width="1.2"><line x1="195.73" y1="134.00" x2="203.13" y2="134.00"/><line x1="195.73" y1="141.30" x2="203.13" y2="141.30"/></g>
<line x1="218.53" y1="91.50" x2="218.53" y2="94.80" stroke="#444" stroke-width="1.1"/><g stroke="#1a1a1a" stroke-width="1.2"><line x1="214.83" y1="91.50" x2="222.23" y2="91.50"/><line x1="214.83" y1="94.80" x2="222.23" y2="94.80"/></g>
<line x1="237.63" y1="92.10" x2="237.63" y2="96.60" stroke="#444" stroke-width="1.1"/><g stroke="#1a1a1a" stroke-width="1.2"><line x1="233.93" y1="92.10" x2="241.33" y2="92.10"/><line x1="233.93" y1="96.60" x2="241.33" y2="96.60"/></g>
<line x1="275.71" y1="89.90" x2="275.71" y2="94.10" stroke="#444" stroke-width="1.1"/><g stroke="#1a1a1a" stroke-width="1.2"><line x1="272.01" y1="89.90" x2="279.41" y2="89.90"/><line x1="272.01" y1="94.10" x2="279.41" y2="94.10"/></g>
<line x1="294.81" y1="158.60" x2="294.81" y2="161.90" stroke="#444" stroke-width="1.1"/><g stroke="#1a1a1a" stroke-width="1.2"><line x1="291.11" y1="158.60" x2="298.51" y2="158.60"/><line x1="291.11" y1="161.90" x2="298.51" y2="161.90"/></g>
<line x1="313.91" y1="102.30" x2="313.91" y2="104.90" stroke="#444" stroke-width="1.1"/><g stroke="#1a1a1a" stroke-width="1.2"><line x1="310.21" y1="102.30" x2="317.61" y2="102.30"/><line x1="310.21" y1="104.90" x2="317.61" y2="104.90"/></g>
<line x1="333.01" y1="210.70" x2="333.01" y2="212.50" stroke="#444" stroke-width="1.1"/><g stroke="#1a1a1a" stroke-width="1.2"><line x1="329.31" y1="210.70" x2="336.71" y2="210.70"/><line x1="329.31" y1="212.50" x2="336.71" y2="212.50"/></g>
<line x1="371.09" y1="93.60" x2="371.09" y2="97.30" stroke="#444" stroke-width="1.1"/><g stroke="#1a1a1a" stroke-width="1.2"><line x1="367.39" y1="93.60" x2="374.79" y2="93.60"/><line x1="367.39" y1="97.30" x2="374.79" y2="97.30"/></g>
<line x1="390.19" y1="175.60" x2="390.19" y2="178.20" stroke="#444" stroke-width="1.1"/><g stroke="#1a1a1a" stroke-width="1.2"><line x1="386.49" y1="175.60" x2="393.89" y2="175.60"/><line x1="386.49" y1="178.20" x2="393.89" y2="178.20"/></g>
<line x1="409.29" y1="110.50" x2="409.29" y2="114.00" stroke="#444" stroke-width="1.1"/><g stroke="#1a1a1a" stroke-width="1.2"><line x1="405.59" y1="110.50" x2="412.99" y2="110.50"/><line x1="405.59" y1="114.00" x2="412.99" y2="114.00"/></g>
<line x1="428.39" y1="209.50" x2="428.39" y2="214.20" stroke="#444" stroke-width="1.1"/><g stroke="#1a1a1a" stroke-width="1.2"><line x1="424.69" y1="209.50" x2="432.09" y2="209.50"/><line x1="424.69" y1="214.20" x2="432.09" y2="214.20"/></g>
<line x1="466.47" y1="149.50" x2="466.47" y2="165.40" stroke="#444" stroke-width="1.1"/><g stroke="#1a1a1a" stroke-width="1.2"><line x1="462.77" y1="149.50" x2="470.17" y2="149.50"/><line x1="462.77" y1="165.40" x2="470.17" y2="165.40"/></g>
<line x1="485.57" y1="190.30" x2="485.57" y2="192.70" stroke="#444" stroke-width="1.1"/><g stroke="#1a1a1a" stroke-width="1.2"><line x1="481.87" y1="190.30" x2="489.27" y2="190.30"/><line x1="481.87" y1="192.70" x2="489.27" y2="192.70"/></g>
<line x1="504.67" y1="117.20" x2="504.67" y2="119.60" stroke="#444" stroke-width="1.1"/><g stroke="#1a1a1a" stroke-width="1.2"><line x1="500.97" y1="117.20" x2="508.37" y2="117.20"/><line x1="500.97" y1="119.60" x2="508.37" y2="119.60"/></g>
<line x1="523.77" y1="210.00" x2="523.77" y2="212.00" stroke="#444" stroke-width="1.1"/><g stroke="#1a1a1a" stroke-width="1.2"><line x1="520.07" y1="210.00" x2="527.47" y2="210.00"/><line x1="520.07" y1="212.00" x2="527.47" y2="212.00"/></g>
<text x="85.20" y="54.80" font-size="17" text-anchor="middle">a</text>
<text x="104.30" y="45.70" font-size="17" text-anchor="middle">a</text>
<text x="124.00" y="47.50" font-size="17" text-anchor="middle">a</text>
<text x="142.30" y="47.50" font-size="17" text-anchor="middle">a</text>
<text x="181.00" y="85.10" font-size="17" text-anchor="middle">a</text>
<text x="199.30" y="127.50" font-size="17" text-anchor="middle">b</text>
<text x="218.70" y="86.80" font-size="17" text-anchor="middle">a</text>
<text x="237.10" y="86.80" font-size="17" text-anchor="middle">a</text>
<text x="275.50" y="85.10" font-size="17" text-anchor="middle">a</text>
<text x="295.60" y="151.10" font-size="17" text-anchor="middle">c</text>
<text x="315.10" y="99.40" font-size="17" text-anchor="middle">b</text>
<text x="333.50" y="203.60" font-size="17" text-anchor="middle">d</text>
<text x="371.80" y="87.80" font-size="17" text-anchor="middle">a</text>
<text x="390.90" y="167.80" font-size="17" text-anchor="middle">c</text>
<text x="410.50" y="108.20" font-size="17" text-anchor="middle">b</text>
<text x="428.60" y="206.70" font-size="17" text-anchor="middle">d</text>
<text x="466.50" y="146.30" font-size="17" text-anchor="middle">b</text>
<text x="485.70" y="184.60" font-size="17" text-anchor="middle">c</text>
<text x="504.50" y="113.40" font-size="17" text-anchor="middle">a</text>
<text x="523.80" y="204.90" font-size="17" text-anchor="middle">d</text>
<line x1="66" y1="12" x2="66" y2="367" stroke="#000" stroke-width="2"/>
<line x1="65" y1="366" x2="543.4" y2="366" stroke="#000" stroke-width="2"/>
<line x1="66" y1="366.00" x2="73" y2="366.00" stroke="#000" stroke-width="2"/>
<text x="57.5" y="372.00" font-size="19" text-anchor="end">0.0</text>
<line x1="66" y1="315.57" x2="73" y2="315.57" stroke="#000" stroke-width="2"/>
<text x="57.5" y="321.57" font-size="19" text-anchor="end">0.2</text>
<line x1="66" y1="265.14" x2="73" y2="265.14" stroke="#000" stroke-width="2"/>
<text x="57.5" y="271.14" font-size="19" text-anchor="end">0.4</text>
<line x1="66" y1="214.71" x2="73" y2="214.71" stroke="#000" stroke-width="2"/>
<text x="57.5" y="220.71" font-size="19" text-anchor="end">0.6</text>
<line x1="66" y1="164.29" x2="73" y2="164.29" stroke="#000" stroke-width="2"/>
<text x="57.5" y="170.29" font-size="19" text-anchor="end">0.8</text>
<line x1="66" y1="113.86" x2="73" y2="113.86" stroke="#000" stroke-width="2"/>
<text x="57.5" y="119.86" font-size="19" text-anchor="end">1.0</text>
<line x1="66" y1="63.43" x2="73" y2="63.43" stroke="#000" stroke-width="2"/>
<text x="57.5" y="69.43" font-size="19" text-anchor="end">1.2</text>
<line x1="66" y1="13.00" x2="73" y2="13.00" stroke="#000" stroke-width="2"/>
<text x="57.5" y="19.00" font-size="19" text-anchor="end">1.4</text>
<line x1="113.60" y1="366" x2="113.60" y2="373.4" stroke="#000" stroke-width="2"/>
<text x="113.60" y="394.2" font-size="19" text-anchor="middle">0</text>
<line x1="208.98" y1="366" x2="208.98" y2="373.4" stroke="#000" stroke-width="2"/>
<text x="208.98" y="394.2" font-size="19" text-anchor="middle">3</text>
<line x1="304.36" y1="366" x2="304.36" y2="373.4" stroke="#000" stroke-width="2"/>
<text x="304.36" y="394.2" font-size="19" text-anchor="middle">5</text>
<line x1="399.74" y1="366" x2="399.74" y2="373.4" stroke="#000" stroke-width="2"/>
<text x="399.74" y="394.2" font-size="19" text-anchor="middle">7</text>
<line x1="495.12" y1="366" x2="495.12" y2="373.4" stroke="#000" stroke-width="2"/>
<text x="495.12" y="394.2" font-size="19" text-anchor="middle">15</text>
<text x="311.8" y="413.2" font-size="20.8" text-anchor="middle">Time (h)</text>
<text transform="translate(21.9,294.2) rotate(-90)" font-size="21">IgE reactivity value</text>
<text transform="translate(28.4,126.3) rotate(-90)" font-size="14">OD450</text>
<rect x="432.75" y="8.75" width="33.25" height="16.10" fill="none" stroke="#000" stroke-width="1.5"/>
<text x="470.6" y="22.15" font-size="15.3">SPI</text>
<g clip-path="url(#l1)" stroke="#000" stroke-width="0.95"><line x1="418.82" y1="46.18" x2="438.92" y2="26.08"/><line x1="428.82" y1="46.18" x2="448.92" y2="26.08"/><line x1="438.82" y1="46.18" x2="458.92" y2="26.08"/><line x1="449.82" y1="46.18" x2="469.92" y2="26.08"/><line x1="460.82" y1="46.18" x2="480.92" y2="26.08"/></g>
<rect x="432.75" y="28.08" width="33.25" height="16.10" fill="none" stroke="#000" stroke-width="1.5"/>
<text x="470.6" y="41.48" font-size="15.3">SPI7-SC3</text>
<g clip-path="url(#l2)" stroke="#000" stroke-width="0.95"><line x1="430.75" y1="16.75" x2="468.00" y2="54.00"/><line x1="430.75" y1="23.75" x2="468.00" y2="61.00"/><line x1="430.75" y1="30.75" x2="468.00" y2="68.00"/><line x1="430.75" y1="37.75" x2="468.00" y2="75.00"/><line x1="430.75" y1="44.75" x2="468.00" y2="82.00"/><line x1="430.75" y1="51.75" x2="468.00" y2="89.00"/><line x1="430.75" y1="58.75" x2="468.00" y2="96.00"/></g>
<rect x="432.75" y="47.41" width="33.25" height="16.10" fill="none" stroke="#000" stroke-width="1.5"/>
<text x="470.6" y="60.81" font-size="15.3">SPI5-SC5</text>
<g clip-path="url(#l3)" stroke="#000" stroke-width="0.95"><line x1="418.16" y1="84.84" x2="438.26" y2="64.74"/><line x1="425.16" y1="84.84" x2="445.26" y2="64.74"/><line x1="432.16" y1="84.84" x2="452.26" y2="64.74"/><line x1="439.16" y1="84.84" x2="459.26" y2="64.74"/><line x1="446.16" y1="84.84" x2="466.26" y2="64.74"/><line x1="453.16" y1="84.84" x2="473.26" y2="64.74"/><line x1="460.16" y1="84.84" x2="480.26" y2="64.74"/><line x1="430.75" y1="30.75" x2="468.00" y2="68.00"/><line x1="430.75" y1="37.75" x2="468.00" y2="75.00"/><line x1="430.75" y1="44.75" x2="468.00" y2="82.00"/><line x1="430.75" y1="51.75" x2="468.00" y2="89.00"/><line x1="430.75" y1="58.75" x2="468.00" y2="96.00"/><line x1="430.75" y1="65.75" x2="468.00" y2="103.00"/><line x1="430.75" y1="72.75" x2="468.00" y2="110.00"/><line x1="430.75" y1="79.75" x2="468.00" y2="117.00"/></g>
<rect x="432.75" y="66.74" width="33.25" height="16.10" fill="none" stroke="#000" stroke-width="1.5"/>
<text x="470.6" y="80.14" font-size="15.3">SPI3-SC7</text>
</g>
</svg></body></html>
